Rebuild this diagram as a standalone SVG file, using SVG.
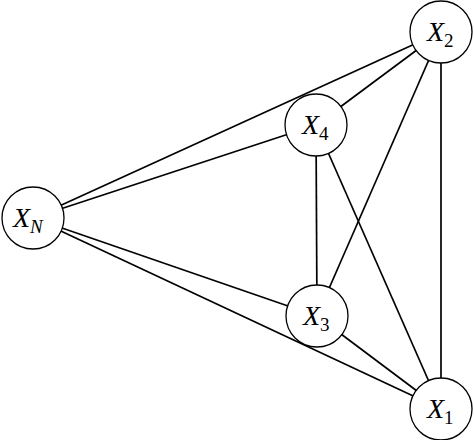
<svg xmlns="http://www.w3.org/2000/svg" width="474" height="440" viewBox="0 0 474 440">
<style>
.n{fill:#fff;stroke:#000;stroke-width:1.3}
.e{stroke:#000;stroke-width:1.7;fill:none}
.t{font-family:"Liberation Serif",serif;font-size:28px;font-style:italic}
.s{font-family:"Liberation Serif",serif;font-size:19px;font-style:normal}
.si{font-family:"Liberation Serif",serif;font-size:19px;font-style:italic}
</style>
<rect width="474" height="440" fill="#fff"/>
<g id="connectors">
<line class="e" x1="33" y1="218" x2="441" y2="32"/>
<line class="e" x1="33" y1="218" x2="316" y2="125"/>
<line class="e" x1="33" y1="218" x2="317" y2="316"/>
<line class="e" x1="33" y1="218" x2="441" y2="409"/>
<line class="e" x1="441" y1="32" x2="316" y2="125"/>
<line class="e" x1="441" y1="32" x2="317" y2="316"/>
<line class="e" x1="441" y1="32" x2="441" y2="409"/>
<line class="e" x1="316" y1="125" x2="317" y2="316"/>
<line class="e" x1="316" y1="125" x2="441" y2="409"/>
<line class="e" x1="317" y1="316" x2="441" y2="409"/>
</g>
<g id="XN"><circle class="n" cx="33" cy="218" r="31"/><text class="t" x="13" y="227">X<tspan class="si" dy="6">N</tspan></text></g>
<g id="X2"><circle class="n" cx="441" cy="32" r="31"/><text class="t" x="427" y="41">X<tspan class="s" dy="6">2</tspan></text></g>
<g id="X4"><circle class="n" cx="316" cy="125" r="31"/><text class="t" x="302" y="134">X<tspan class="s" dy="6">4</tspan></text></g>
<g id="X3"><circle class="n" cx="317" cy="316" r="31"/><text class="t" x="303" y="325">X<tspan class="s" dy="6">3</tspan></text></g>
<g id="X1"><circle class="n" cx="441" cy="409" r="31"/><text class="t" x="427" y="418">X<tspan class="s" dy="6">1</tspan></text></g>
</svg>
